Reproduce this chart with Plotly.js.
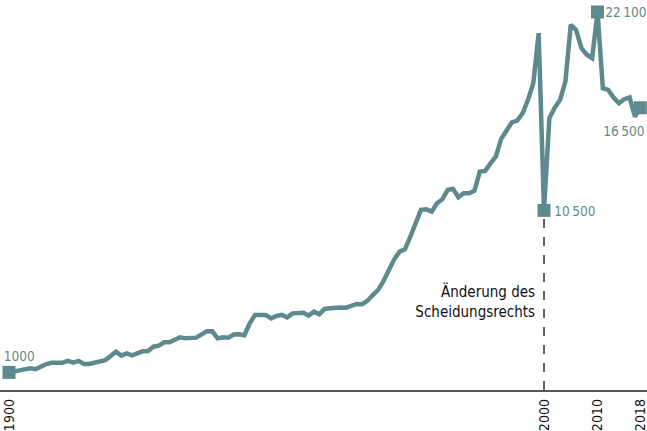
<!DOCTYPE html>
<html>
<head>
<meta charset="utf-8">
<script src="https://cdn.plot.ly/plotly-3.0.1.min.js"></script>
<style>
  html, body { margin: 0; padding: 0; background: #ffffff; }
  #chart { width: 647px; height: 431px; }
  /* schmale Schrift wie im Original */
  #chart text { font-stretch: condensed; }
</style>
</head>
<body>
<div id="chart"></div>
<script>
// Scheidungen pro Jahr, 1900-2018
var years = [];
for (var y = 1900; y <= 2018; y++) years.push(y);

var divorces = [
  1030, 1080, 1150, 1220, 1270, 1220, 1380, 1520, 1600, 1600,   // 1900-1909
  1600, 1700, 1600, 1700, 1520, 1520, 1600, 1700, 1750, 1990,   // 1910-1919
  2240, 2010, 2140, 2030, 2150, 2260, 2280, 2530, 2590, 2790,   // 1920-1929
  2790, 2930, 3080, 3020, 3040, 3060, 3250, 3430, 3430, 3020,   // 1930-1939
  3080, 3060, 3240, 3260, 3200, 3900, 4390, 4390, 4390, 4190,   // 1940-1949
  4330, 4390, 4250, 4480, 4520, 4520, 4350, 4580, 4430, 4740,   // 1950-1959
  4780, 4830, 4820, 4810, 4950, 5030, 5010, 5220, 5550, 5850,   // 1960-1969
  6370, 7000, 7640, 8090, 8220, 8950, 9710, 10530, 10570, 10430, // 1970-1979
  10920, 11150, 11700, 11750, 11270, 11500, 11500, 11650, 12770, 12810, // 1980-1989
  13250, 13650, 14680, 15150, 15650, 15750, 16180, 16960, 17940, 20860, // 1990-1999
  10500, 15890, 16500, 16960, 18030, 21350, 21050, 19980, 19600, 19400, // 2000-2009
  22100, 17640, 17540, 17100, 16760, 17000, 17110, 15980, 16500        // 2010-2018
];

// hervorgehobene Punkte
var markYears = [1900, 2000, 2010, 2018];
var markLabels = ['1000', '10\u2009500', '22\u2009100', '16\u2009500'];
var markValues = markYears.map(function (yr) { return divorces[years.indexOf(yr)]; });

var tickYears = [1900, 2000, 2010, 2018];
var noteYear = 2000;
var noteText = '\u00c4nderung des<br>Scheidungsrechts';

var teal = '#5e8a8f';
var condensed = '"Liberation Sans Narrow", "DejaVu Sans", sans-serif';

var data = [{
  x: years,
  y: divorces,
  type: 'scatter',
  mode: 'lines',
  line: { color: teal, width: 4.5, shape: 'linear' },
  hoverinfo: 'x+y',
  showlegend: false
}, {
  x: markYears,
  y: markValues,
  type: 'scatter',
  mode: 'markers',
  marker: { symbol: 'square', size: 13, color: teal },
  hoverinfo: 'skip',
  showlegend: false
}];

// Beschriftung der Punkte
var labelPos = [
  { xanchor: 'left', yanchor: 'bottom', xshift: -9, yshift: 6 },
  { xanchor: 'left', yanchor: 'middle', xshift: 6, yshift: -1 },
  { xanchor: 'left', yanchor: 'middle', xshift: 3, yshift: 0 },
  { xanchor: 'right', yanchor: 'top', xshift: 9, yshift: -13 }
];

var annotations = markYears.map(function (yr, i) {
  return {
    x: yr, y: markValues[i],
    xref: 'x', yref: 'y',
    text: markLabels[i],
    showarrow: false,
    xanchor: labelPos[i].xanchor,
    yanchor: labelPos[i].yanchor,
    xshift: labelPos[i].xshift,
    yshift: labelPos[i].yshift,
    font: { family: condensed, size: 13.5, color: teal }
  };
});

annotations.push({
  x: noteYear, y: 0,
  xref: 'x', yref: 'y',
  text: noteText,
  showarrow: false,
  align: 'right',
  xanchor: 'right',
  yanchor: 'bottom',
  xshift: -7, yshift: 67,
  font: { family: condensed, size: 15, color: '#111111' }
});

var noteValue = divorces[years.indexOf(noteYear)];

var layout = {
  width: 647,
  height: 431,
  margin: { l: 0, r: 0, t: 0, b: 41, pad: 0 },
  paper_bgcolor: '#ffffff',
  plot_bgcolor: '#ffffff',
  xaxis: {
    range: [1898.32, 2019.25],
    tickvals: tickYears,
    ticktext: tickYears.map(String),
    tickangle: -90,
    ticks: '',
    ticklabeloverflow: 'allow',
    ticklabelstandoff: 2,
    showgrid: false,
    zeroline: false,
    showline: true,
    linecolor: '#555555',
    linewidth: 1.5,
    tickfont: { family: condensed, size: 14, color: '#111111' }
  },
  yaxis: {
    range: [0, 22800],
    showgrid: false,
    zeroline: false,
    showline: false,
    showticklabels: false,
    ticks: ''
  },
  shapes: [{
    type: 'line',
    xref: 'x', yref: 'y',
    x0: noteYear, x1: noteYear,
    y0: 0, y1: noteValue,
    line: { color: '#111111', width: 1.3, dash: 'dash' },
    layer: 'below'
  }],
  annotations: annotations
};

Plotly.newPlot('chart', data, layout, { displayModeBar: false, staticPlot: true });
</script>
</body>
</html>
